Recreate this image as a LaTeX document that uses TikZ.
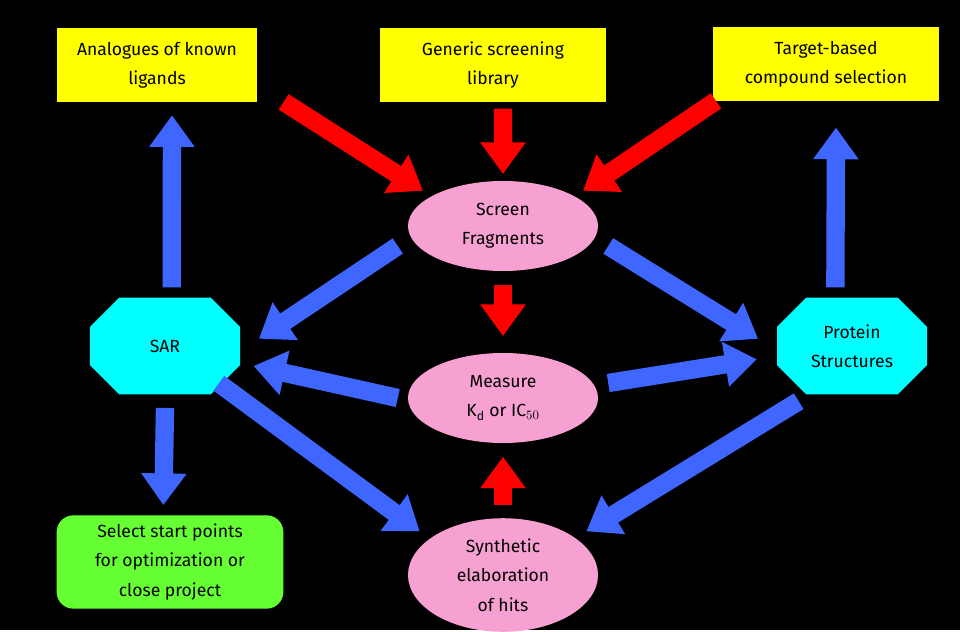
\documentclass[tikz,border=0pt]{standalone}
\usepackage{fontspec}
\setmainfont{Fira Sans}
\usetikzlibrary{positioning,shapes.geometric,shapes.misc,arrows.meta}
\definecolor{boxyellow}{HTML}{FFFF00}
\definecolor{arrred}{HTML}{FF0000}
\definecolor{arrblue}{HTML}{3F66FF}
\definecolor{elpink}{HTML}{F7A1D3}
\definecolor{octcyan}{HTML}{00FFFF}
\definecolor{boxgreen}{HTML}{66FF33}
\tikzstyle{src} = [rectangle, text centered, fill=boxyellow, minimum width=6cm, minimum height=2.2cm, align=center]
\tikzstyle{stage} = [ellipse, text centered, fill=elpink, minimum width=5.7cm, minimum height=2.7cm, align=center]
\tikzstyle{oct} = [chamfered rectangle, chamfered rectangle xsep=0.75cm, chamfered rectangle ysep=0.75cm, fill=octcyan, minimum width=4.5cm, minimum height=2.9cm, align=center]
\tikzstyle{goal} = [rectangle, rounded corners=0.5cm, fill=boxgreen, minimum width=6.8cm, minimum height=2.8cm, align=center]
\tikzstyle{fat} = [line width=0.55cm, -{Triangle[length=0.95cm, width=1.3cm]}]
\begin{document}
\begin{tikzpicture}[x=0.03cm,y=-0.03cm,font=\fontsize{15}{25}\selectfont]
    \fill[black] (0,0) rectangle (960,630);
    \node (ana) [src] at (157,65) {Analogues of known\\ligands};
    \node (gen) [src, minimum width=6.8cm] at (493,65) {Generic screening\\library};
    \node (tar) [src, minimum width=6.8cm] at (826,64) {Target-based\\compound selection};
    \node (scr) [stage] at (503,226) {Screen\\Fragments};
    \node (mea) [stage] at (503,398) {Measure\\K$_\mathrm{d}$ or IC$_{50}$};
    \node (syn) [stage, minimum height=3cm] at (503,575) {Synthetic\\elaboration\\of hits};
    \node (sar) [oct] at (165,346) {SAR};
    \node (pro) [oct, label={[align=center]center:Protein\\Structures}] at (852,346) {\phantom{SAR}};
    \node (sel) [goal] at (170,562) {Select start points\\for optimization or\\close project};
    \draw[fat, arrred] ([xshift=3.8cm]ana.south) -- ([xshift=-2.4cm,yshift=-0.3cm]scr.north);
    \draw[fat, arrred] ([xshift=0.3cm,yshift=-0.2cm]gen.south) -- ([yshift=0.2cm]scr.north);
    \draw[fat, arrred] ([xshift=-3.3cm]tar.south) -- ([xshift=2.4cm,yshift=-0.3cm]scr.north);
    \draw[fat, arrred] ([yshift=-0.4cm]scr.south) -- ([yshift=0.5cm]mea.north);
    \draw[fat, arrred] ([yshift=0.4cm]syn.north) -- ([yshift=-0.4cm]mea.south);
    \draw[fat, arrblue] ([xshift=0.2cm,yshift=0.3cm]sar.north) -- ([xshift=0.45cm,yshift=-0.4cm]ana.south);
    \draw[fat, arrblue] ([xshift=-0.5cm,yshift=0.3cm]pro.north) -- ([xshift=0.3cm,yshift=-0.8cm]tar.south);
    \draw[fat, arrblue] ([xshift=-0.3cm,yshift=-0.6cm]scr.west) -- ([xshift=1cm,yshift=-0.8cm]sar.north east);
    \draw[fat, arrblue] ([xshift=0.3cm,yshift=-0.6cm]scr.east) -- ([xshift=-1cm,yshift=-0.8cm]pro.north west);
    \draw[fat, arrblue] ([xshift=-0.3cm]mea.west) -- ([xshift=0.4cm,yshift=-0.6cm]sar.east);
    \draw[fat, arrblue] ([xshift=0.3cm,yshift=0.45cm]mea.east) -- ([xshift=-0.6cm,yshift=-0.4cm]pro.west);
    \draw[fat, arrblue] ([xshift=-0.2cm,yshift=-0.1cm]sar.south east) -- ([xshift=-2.5cm,yshift=-0.4cm]syn.north);
    \draw[fat, arrblue] ([xshift=-1.6cm,yshift=-0.2cm]pro.south) -- ([xshift=2.5cm,yshift=-0.4cm]syn.north);
    \draw[fat, arrblue] ([yshift=-0.4cm]sar.south) -- ([xshift=-0.2cm,yshift=0.3cm]sel.north);
\end{tikzpicture}
\end{document}
